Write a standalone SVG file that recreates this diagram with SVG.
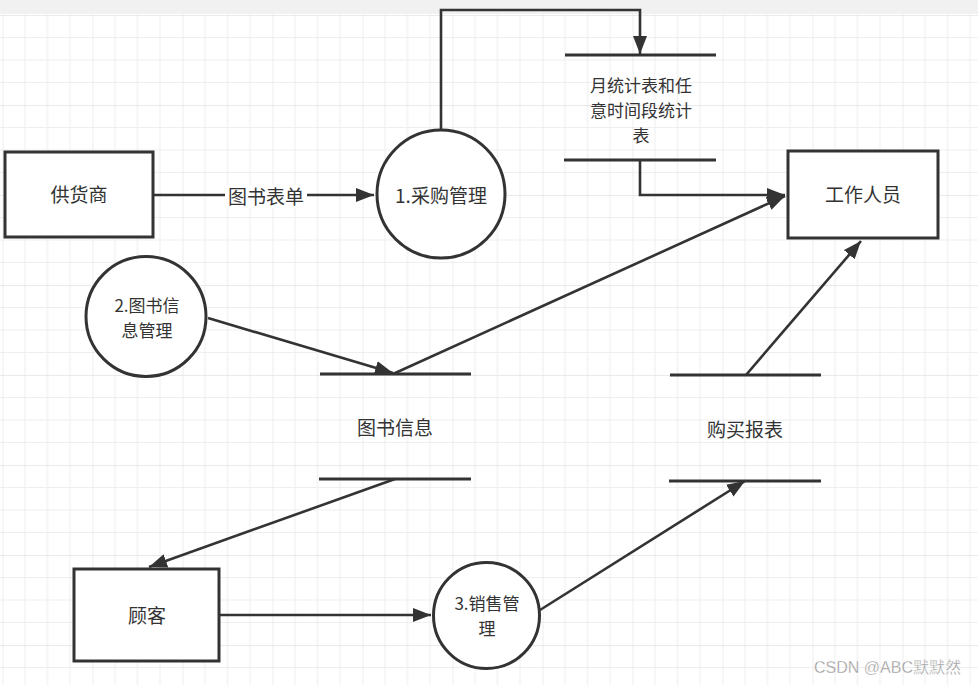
<svg xmlns="http://www.w3.org/2000/svg" width="978" height="685" viewBox="0 0 978 685">
<defs>
<pattern id="grid" x="2.5" y="15" width="90" height="90" patternUnits="userSpaceOnUse">
<path d="M22.5 0V90M45 0V90M67.5 0V90M0 22.5H90M0 45H90M0 67.5H90" stroke="#efefef" stroke-width="1.2" fill="none"/>
<path d="M0 0V90M0 0H90" stroke="#e4e4e4" stroke-width="1.4" fill="none"/>
</pattern>
<marker id="arr" markerUnits="userSpaceOnUse" markerWidth="20" markerHeight="16" refX="18" refY="7" orient="auto">
<path d="M0,0 L18,7 L0,14 Z" fill="#333"/>
</marker>
</defs>
<style>
.box{fill:#fff;stroke:#333;stroke-width:3}
.line{stroke:#333;stroke-width:3;fill:none}
.edge{stroke:#333;stroke-width:2.6;fill:none}
.t{font-family:"Noto Sans CJK SC","Liberation Sans",sans-serif;font-size:19px;fill:#333;text-anchor:middle}
.m{font-size:17px}
</style>
<rect width="978" height="685" fill="#fff"/>
<rect y="14" width="978" height="671" fill="url(#grid)"/>
<rect width="978" height="14" fill="#f1f1f1"/>

<g id="connectors">
<path class="edge" d="M154 195H374" marker-end="url(#arr)"/>
<path class="edge" d="M441 130V10H640V54" marker-end="url(#arr)"/>
<path class="edge" d="M640 161V195H785" marker-end="url(#arr)"/>
<path class="edge" d="M393 374L785 196" marker-end="url(#arr)"/>
<path class="edge" d="M208 318L393 373" marker-end="url(#arr)"/>
<path class="edge" d="M395 479L149 567" marker-end="url(#arr)"/>
<path class="edge" d="M220 615H431" marker-end="url(#arr)"/>
<path class="edge" d="M540 610L745 481" marker-end="url(#arr)"/>
<path class="edge" d="M746 375L861 241" marker-end="url(#arr)"/>
<rect x="225" y="185" width="82" height="23" fill="#fff"/>
<text class="t" x="266" y="204">图书表单</text>
</g>

<g id="supplier">
<rect class="box" x="5" y="152" width="148" height="85"/>
<text class="t" x="79" y="202">供货商</text>
</g>

<g id="p1">
<circle class="box" cx="441" cy="194" r="64"/>
<text class="t" x="441" y="203">1.采购管理</text>
</g>

<g id="store-monthly">
<path class="line" d="M565 55H716M564 160H716"/>
<text class="t m" x="641" y="92">月统计表和任</text>
<text class="t m" x="641" y="117">意时间段统计</text>
<text class="t m" x="641" y="142">表</text>
</g>

<g id="staff">
<rect class="box" x="788" y="151" width="150" height="87"/>
<text class="t" x="863" y="202">工作人员</text>
</g>

<g id="p2">
<circle class="box" cx="146" cy="316.5" r="60"/>
<text class="t m" x="147" y="312">2.图书信</text>
<text class="t m" x="147" y="337">息管理</text>
</g>

<g id="store-books">
<path class="line" d="M320 374H471M319 479H471"/>
<text class="t" x="395" y="435">图书信息</text>
</g>

<g id="store-sales">
<path class="line" d="M670 375H821M669 481H821"/>
<text class="t" x="745" y="437">购买报表</text>
</g>

<g id="customer">
<rect class="box" x="74" y="569" width="145" height="92"/>
<text class="t" x="147" y="623">顾客</text>
</g>

<g id="p3">
<circle class="box" cx="486.5" cy="615.5" r="53"/>
<text class="t m" x="487" y="610">3.销售管</text>
<text class="t m" x="487" y="635">理</text>
</g>

<text x="961" y="673" text-anchor="end" font-family="Liberation Sans, Noto Sans CJK SC, sans-serif" font-size="16" fill="#999" stroke="#fff" stroke-width="0.3">CSDN @ABC默默然</text>
</svg>
